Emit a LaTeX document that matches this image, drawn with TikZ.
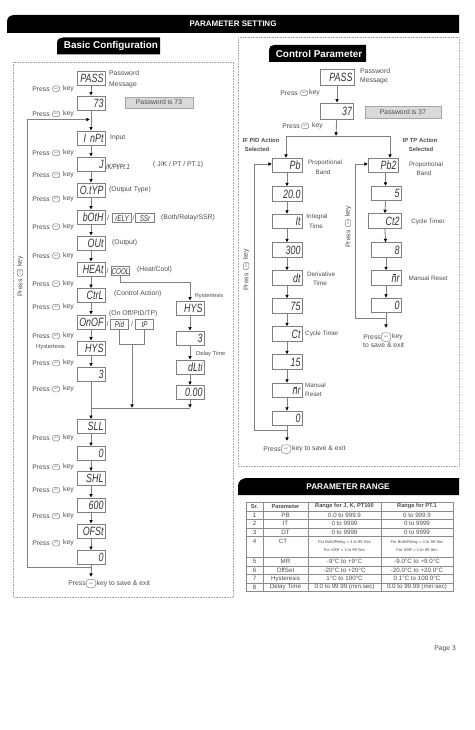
\documentclass[tikz,border=0pt]{standalone}
\usepackage{fontspec}
\setmainfont{Liberation Sans}
\newfontfamily\ledfont{Liberation Sans}[FakeStretch=0.74]
\usetikzlibrary{arrows.meta}
\definecolor{ink}{gray}{0.3}
\definecolor{rule}{gray}{0.5}
\tikzset{
 led/.style={draw=rule,line width=0.7pt,fill=white,minimum width=28pt,minimum height=14pt,inner sep=0pt,inner xsep=1.5pt,text width=25pt,align=right,font=\ledfont\itshape\fontsize{12}{12}\selectfont,text=black!80,text height=8.8pt,text depth=0pt},
 rled/.style={led,minimum width=30pt,minimum height=14.5pt,text width=27pt},
 sled/.style={draw=rule,line width=0.6pt,fill=white,minimum width=18.5pt,minimum height=9.5pt,inner sep=0pt,font=\ledfont\itshape\fontsize{8.5}{9}\selectfont,text=black!80,text height=6.2pt,text depth=0pt},
 conn/.style={draw=rule,line width=0.9pt,-{Latex[length=3.6pt,width=3.8pt,black]}},
 plain/.style={draw=rule,line width=0.9pt},
 lab/.style={inner sep=0pt,text=ink,font=\fontsize{6.8}{8}\selectfont},
 mini/.style={lab,font=\fontsize{5.8}{7}\selectfont},
 midlab/.style={lab,font=\fontsize{6.3}{7.5}\selectfont},
 boldlab/.style={lab,font=\bfseries\fontsize{5.9}{7}\selectfont},
 keyicon/.style={draw=rule,fill=white,rounded corners=1.6pt,line width=0.5pt,minimum width=7pt,minimum height=5.5pt,inner sep=0pt,text=ink,font=\fontsize{2.5}{3}\selectfont},
 bigkey/.style={keyicon,minimum width=9.5pt,minimum height=8.5pt,rounded corners=3pt},
 pwbox/.style={draw=rule!70,fill=black!15,line width=0.5pt,inner sep=0pt,text=ink,font=\fontsize{6.8}{8}\selectfont},
 frame/.style={draw=black!35,line width=0.6pt,densely dotted},
 hdr/.style={inner sep=0pt,text=white,font=\bfseries\fontsize{8}{10}\selectfont},
 tag/.style={inner sep=0pt,text=white,font=\bfseries\fontsize{9.9}{12}\selectfont},
 cell/.style={inner sep=0pt,text=ink,font=\fontsize{6.2}{7.5}\selectfont},
 headcell/.style={inner sep=0pt,text=ink,font=\bfseries\fontsize{5.7}{7}\selectfont},
 tiny/.style={inner sep=0pt,text=ink,font=\fontsize{4.1}{5}\selectfont},
 tline/.style={draw=black!45,line width=0.5pt},
}
\newcommand\pressleft[2]{% name, y
 \node[lab,anchor=east] (#1a) at (50,#2) {Press};
 \node[keyicon] (#1b) at (56,#2) {ent};
 \node[lab,anchor=west] (#1c) at (63,#2) {key};
}
\newcommand\manreset{\rlap{\raisebox{7.5pt}{\kern1pt\rule{3.5pt}{0.9pt}}}nr}
\begin{document}
\begin{tikzpicture}[x=1pt,y=-1pt]
\useasboundingbox (0,0) rectangle (474,730);
% title bars
\fill[black] (7,33) -- (7,22) .. controls (7,17) and (10,15) .. (15,15) -- (459,15) -- (459,33) -- cycle;
\node[hdr] (title) at (233,24) {PARAMETER SETTING};
\fill[black] (57,54.5) -- (57,43) .. controls (57,39) and (60,37.5) .. (63,37.5) -- (160,37.5) -- (160,54.5) -- cycle;
\node[tag] (basic) at (111,46) {Basic Configuration};
\fill[black] (269,62) -- (269,50) .. controls (269,47) and (271,45) .. (274,45) -- (366,45) -- (366,62) -- cycle;
\node[tag] (ctrl) at (319,53.5) {Control Parameter};
\fill[black] (238,495) -- (238,486) .. controls (238,481) and (242,478) .. (247,478) -- (459,478) -- (459,495) -- cycle;
\node[hdr,font=\bfseries\fontsize{8.2}{10}\selectfont] (rangetitle) at (348,487) {PARAMETER RANGE};
% frames
\draw[frame] (13,62) rectangle (233,597);
\draw[frame] (238,37) rectangle (459,466);

% ---------- Basic Configuration
\node[led] (a1) at (91,78) {PASS};
\node[led] (a2) at (91,103) {73};
\node[led] (a3) at (91,138) {I nPt};
\node[led] (a4) at (91,164) {J};
\node[led] (a5) at (91,190) {O.tYP};
\node[led] (a6) at (91,217) {bOtH};
\node[led] (a7) at (91,243) {OUt};
\node[led] (a8) at (91,269) {HEAt};
\node[led] (a9) at (91,295.5) {CtrL};
\node[led] (a10) at (91,322) {OnOF};
\node[led] (a11) at (91,348) {HYS};
\node[led] (a12) at (91,374) {3};
\node[led] (a13) at (91,426.5) {SLL};
\node[led] (a14) at (91,453.5) {0};
\node[led] (a15) at (91,478.5) {SHL};
\node[led] (a16) at (91,505) {600};
\node[led] (a17) at (91,531) {OFSt};
\node[led] (a18) at (91,557.5) {0};
\coordinate (ajoin) at (90,119.5);
\coordinate (abot) at (91,567);
\coordinate (aleft) at (27,567);
\coordinate (atop) at (27,119.5);
\coordinate (aend) at (91,577);
\coordinate (amerge) at (91,408);
\draw[conn] (a1) -- (a2);
\draw[conn] (a2) -- (a3);
\foreach \p/\q in {a3/a4,a4/a5,a5/a6,a6/a7,a7/a8,a8/a9,a9/a10,a10/a11,a11/a12,a12/a13,a13/a14,a14/a15,a15/a16,a16/a17,a17/a18}{\draw[conn] (\p) -- (\q);}
\draw[plain] (a18) -- (abot);
\draw[conn] (abot) -- (aend);
\draw[conn] (abot) -- (aleft) -- (atop) -- (ajoin);
% small alternates
\node[anchor=west,inner sep=0pt,text=black!80,font=\ledfont\itshape\fontsize{7.5}{8}\selectfont] (jalt) at (106,167) {/K/Pt/Pt.1};
\node[lab] (b0) at (108,218) {/};
\node[sled] (b1) at (122,218) {rELY};
\node[lab] (b2) at (133.5,218) {/};
\node[sled] (b3) at (145,218) {SSr};
\node[lab] (b4) at (107.5,271) {/};
\node[sled] (c1) at (120.5,271) {COOL};
\node[lab] (d0) at (107.5,324.5) {/};
\node[sled] (d1) at (119.5,324.5) {Pid};
\node[lab] (d2) at (132,324.5) {/};
\node[sled] (d3) at (144.5,324.5) {tP};
% hysteresis branch
\node[led] (e1) at (190,308) {HYS};
\node[led] (e2) at (190,338) {3};
\node[led] (e3) at (190,367) {dLti};
\node[led] (e4) at (190,392.5) {0.00};
\coordinate (c2) at (120.5,282);
\coordinate (c3) at (190,282);
\coordinate (emerge) at (190,408);
\draw[conn] (c1) -- (c2) -- (c3) -- (e1);
\draw[conn] (e1) -- (e2);
\draw[conn] (e2) -- (e3);
\draw[conn] (e3) -- (e4);
\draw[conn] (e4) -- (emerge);
\draw[plain] (amerge) -- (emerge);
% PID / TP join
\coordinate (d4) at (119.5,344);
\coordinate (d5) at (144.5,344);
\coordinate (d6) at (132,344);
\coordinate (d7) at (132,408);
\draw[plain] (d1) -- (d4) -- (d5) -- (d3);
\draw[conn] (d6) -- (d7);
% labels
\foreach \n/\y in {pa/88.7,pb/114,pc/153,pd/175,pe/199,pf/226.7,pg/255.7,ph/283.7,pi/307,pj/336,pk/363,pl/389,pm/438,pn/467,po/490,pp/516,pq/543}{\pressleft{\n}{\y}}
\node[lab,anchor=west] (l1) at (109,73) {Password};
\node[lab,anchor=west] (l2) at (109,84.5) {Message};
\node[pwbox,minimum width=68pt,minimum height=11pt] (pw1) at (159,102.5) {Password is 73};
\node[lab,anchor=west] (l3) at (110,138) {Input};
\node[lab,anchor=west] (l4) at (153,164.5) {( J/K / PT / PT.1)};
\node[lab,anchor=west] (l5) at (109,190) {(Output Type)};
\node[lab,anchor=west] (l6) at (161,218) {(Both/Relay/SSR)};
\node[lab,anchor=west] (l7) at (112,243) {(Output)};
\node[lab,anchor=west] (l8) at (137,270) {(Heat/Cool)};
\node[lab,anchor=west] (l9) at (114,293.5) {(Control Action)};
\node[lab,anchor=west] (l10) at (109,313.5) {(On Off/PID/TP)};
\node[mini,anchor=west] (l11) at (194.5,295.5) {Hystertesis};
\node[mini,anchor=west] (l12) at (196,354) {Delay Time};
\node[mini,anchor=west] (l13) at (36,347) {Hystertesis};
% rotated press key
\node[lab,rotate=90,anchor=east] (r1) at (20,279) {Press};
\node[keyicon,rotate=90] (r2) at (20,272.5) {ent};
\node[lab,rotate=90,anchor=west] (r3) at (20,267) {key};
% exit
\node[lab,anchor=east] (x1) at (86,583.5) {Press};
\node[bigkey] (x2) at (91,583.5) {ent};
\node[lab,anchor=west] (x3) at (96.5,583.5) {key to save \& exit};

% ---------- Control Parameter
\node[rled,minimum width=34pt,text width=31pt,minimum height=15.5pt] (f1) at (337,77.5) {PASS};
\node[rled,minimum width=33pt,text width=30pt,minimum height=16pt] (f2) at (337,111) {37};
\coordinate (fj) at (336,136);
\coordinate (fl) at (286,136);
\coordinate (fr) at (390,136);
\coordinate (flb) at (286,158);
\coordinate (frb) at (390,158);
\draw[conn] (f1) -- (f2);
\draw[conn] (f2) -- (fj);
\draw[conn] (fl) -- (flb);
\draw[conn] (fr) -- (frb);
\draw[plain] (fl) -- (fr);
\node[rled] (g1) at (287,165.5) {Pb};
\node[rled] (g2) at (287,194) {20.0};
\node[rled] (g3) at (287,221.5) {It};
\node[rled] (g4) at (287,250) {300};
\node[rled] (g5) at (287,278) {dt};
\node[rled] (g6) at (287,306) {75};
\node[rled] (g7) at (287,334) {Ct};
\node[rled] (g8) at (287,362) {15};
\node[rled] (g9) at (287,390.5) {\manreset};
\node[rled] (g10) at (287,418.5) {0};
\foreach \p/\q in {g1/g2,g2/g3,g3/g4,g4/g5,g5/g6,g6/g7,g7/g8,g8/g9,g9/g10}{\draw[conn] (\p) -- (\q);}
\coordinate (gb) at (287,430);
\coordinate (gl) at (254,430);
\coordinate (gt) at (254,164);
\coordinate (ge) at (287,441);
\coordinate (gt2) at (272,164);
\draw[plain] (g10) -- (gb);
\draw[conn] (gb) -- (ge);
\draw[conn] (gb) -- (gl) -- (gt) -- (gt2);
\node[rled] (h1) at (383,165.5) {Pb2};
\node[rled] (h2) at (386,193.5) {5};
\node[rled,minimum width=33pt,text width=30pt] (h3) at (384.5,221) {Ct2};
\node[rled] (h4) at (386,250) {8};
\node[rled] (h5) at (386,278) {\manreset};
\node[rled] (h6) at (386,305.5) {0};
\foreach \p/\q in {h2/h3,h3/h4,h4/h5,h5/h6}{\draw[conn] (\p) -- (\q);}
\coordinate (h1b) at (385.5,173);
\coordinate (h2t) at (385.5,186);
\draw[conn] (h1b) -- (h2t);
\coordinate (hb) at (386,318);
\coordinate (hl) at (355,318);
\coordinate (ht) at (355,164);
\coordinate (ht2) at (368,164);
\coordinate (he) at (386,328);
\draw[plain] (h6) -- (hb);
\draw[conn] (hb) -- (he);
\draw[conn] (hb) -- (hl) -- (ht) -- (ht2);
% control labels
\node[lab,anchor=west] (m1) at (360,71.5) {Password};
\node[lab,anchor=west] (m2) at (360,81) {Message};
\node[lab,anchor=east] (m3a) at (298,93) {Press};
\node[keyicon] (m3b) at (304,93) {ent};
\node[lab,anchor=west] (m3c) at (309,93) {key};
\node[pwbox,minimum width=76pt,minimum height=12pt] (pw2) at (403,112) {Password is 37};
\node[lab,anchor=east] (m4a) at (300,126) {Press};
\node[keyicon] (m4b) at (305,126) {ent};
\node[lab,anchor=west] (m4c) at (312,126) {key};
\node[boldlab] (m5) at (261,140.5) {IF PID Action};
\node[boldlab] (m6) at (257,149.5) {Selected};
\node[boldlab] (m7) at (420,140) {IP TP Action};
\node[boldlab] (m8) at (421,149) {Selected};
\node[midlab] (m9) at (325,163) {Proportional};
\node[midlab] (m10) at (323,172) {Band};
\node[midlab] (m11) at (426,164.5) {Proportional};
\node[midlab] (m12) at (424,173) {Band};
\node[midlab] (m13) at (317,217) {Integral};
\node[midlab] (m14) at (316,226) {Time};
\node[midlab] (m15) at (428,221.5) {Cycle Timer};
\node[midlab] (m16) at (321,274.5) {Derivative};
\node[midlab] (m17) at (320,283) {Time};
\node[midlab,anchor=west] (m18) at (305,333.5) {Cycle Timer};
\node[midlab,anchor=west] (m19) at (305,385.5) {Manual};
\node[midlab,anchor=west] (m20) at (305,394.5) {Reset};
\node[midlab,anchor=west] (m21) at (408.5,278) {Manual Reset};
\node[lab,anchor=east] (m22a) at (281,449) {Press};
\node[bigkey] (m22b) at (286,449) {ent};
\node[lab,anchor=west] (m22c) at (292,449) {key to save \& exit};
\node[lab,anchor=east] (m23a) at (381,337) {Press};
\node[bigkey] (m23b) at (386,337) {ent};
\node[lab,anchor=west] (m23c) at (392,337) {key};
\node[lab,anchor=west] (m24) at (363,345.5) {to save \& exit};
\node[lab,rotate=90,anchor=east] (m25a) at (246,273) {Press};
\node[keyicon,rotate=90] (m25b) at (246,266) {ent};
\node[lab,rotate=90,anchor=west] (m25c) at (246,260) {key};
\node[lab,rotate=90,anchor=east] (m26a) at (348,230) {Press};
\node[keyicon,rotate=90] (m26b) at (348,223) {ent};
\node[lab,rotate=90,anchor=west] (m26c) at (348,217) {key};

% ---------- Table
\draw[tline] (246,502) rectangle (453,591);
\foreach \y in {511,519,528,536,557,566,574,583}{\draw[tline] (246,\y) -- (453,\y);}
\foreach \x in {263,308,381}{\draw[tline] (\x,502) -- (\x,591);}
\node[headcell] (th1) at (254.5,506.5) {Sr.};
\node[headcell] (th2) at (285.5,506.5) {Parameter};
\node[headcell] (th3) at (344.5,506.5) {Range for J, K, PT100};
\node[headcell] (th4) at (417,506.5) {Range for PT.1};
\foreach \i/\y/\p/\u/\v in {
 1/515/PB/{0.0 to 999.9}/{0 to 999.9},
 2/523.5/IT/{0 to 9999}/{0 to 9999},
 3/532/DT/{0 to 9999}/{0 to 9999},
 5/561.5/MR/{-9°C to +9°C}/{-9.0°C to +9.0°C},
 6/570/OffSet/{-20°C to +20°C}/{-20.0°C to +20.0°C},
 7/578.5/Hysteresis/{1°C to 100°C}/{0.1°C to 100.0°C},
 8/587/Delay Time/{0.0 to 99.99 (min:sec)}/{0.0 to 99.99 (min:sec)}}{
 \node[cell] (ts\i) at (254.5,\y) {\i};
 \node[cell] (tp\i) at (285.5,\y) {\p};
 \node[cell] (tu\i) at (344.5,\y) {\u};
 \node[cell] (tv\i) at (417,\y) {\v};
}
\node[cell] (ts4) at (254.5,541) {4};
\node[cell] (tp4) at (283,541) {CT};
\node[tiny] (tu4a) at (344.5,542.5) {For Both/Relay = 4 to 99 Sec};
\node[tiny] (tu4b) at (344.5,550) {For SSR = 1 to 99 Sec};
\node[tiny] (tv4a) at (417,542.5) {For Both/Relay = 4 to 99 Sec};
\node[tiny] (tv4b) at (417,550) {For SSR = 1 to 99 Sec};
\node[lab,anchor=east] (page) at (456,649) {Page 3};
\end{tikzpicture}
\end{document}
